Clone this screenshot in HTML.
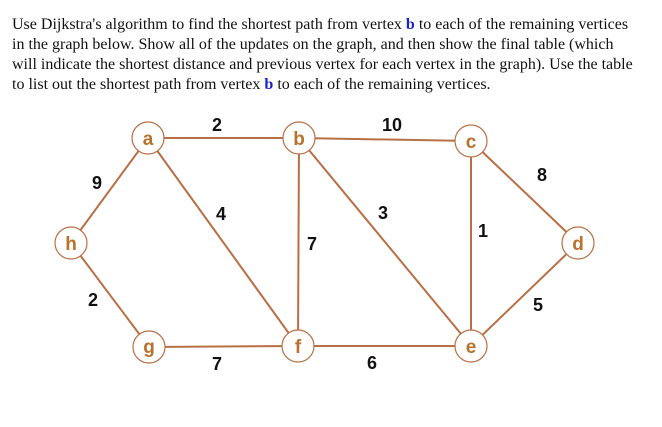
<!DOCTYPE html>
<html><head><meta charset="utf-8"><style>
body{margin:0;width:662px;height:427px;background:#fff;overflow:hidden;position:relative}
.t{position:absolute;left:12px;top:15px;font-family:"Liberation Serif",serif;font-size:16px;letter-spacing:0;line-height:20px;color:#111;white-space:nowrap}
.t b{color:#1a22c8}
svg{position:absolute;left:0;top:0}
</style></head><body>
<div class="t">Use Dijkstra's algorithm to find the shortest path from vertex <b>b</b> to each of the remaining vertices<br>in the graph below. Show all of the updates on the graph, and then show the final table (which<br>will indicate the shortest distance and previous vertex for each vertex in the graph). Use the table<br>to list out the shortest path from vertex <b>b</b> to each of the remaining vertices.</div>
<svg width="662" height="427" font-family="Liberation Sans, sans-serif">
<g stroke="#b86f45" stroke-width="2" fill="none">
<line x1="148" y1="138" x2="299" y2="138"/>
<line x1="299" y1="138" x2="471" y2="141"/>
<line x1="148" y1="138" x2="71" y2="243"/>
<line x1="148" y1="138" x2="298" y2="346"/>
<line x1="299" y1="138" x2="298" y2="346"/>
<line x1="299" y1="138" x2="471" y2="346"/>
<line x1="471" y1="141" x2="471" y2="346"/>
<line x1="471" y1="141" x2="578" y2="243"/>
<line x1="578" y1="243" x2="471" y2="346"/>
<line x1="71" y1="243" x2="149" y2="347"/>
<line x1="149" y1="347" x2="298" y2="346"/>
<line x1="298" y1="346" x2="471" y2="346"/>
</g>
<g stroke="#b86f45" stroke-width="1.2" fill="#fff">
<circle cx="148" cy="138" r="16"/><circle cx="299" cy="138" r="16"/><circle cx="471" cy="141" r="16"/>
<circle cx="71" cy="243" r="16"/><circle cx="578" cy="243" r="16"/>
<circle cx="149" cy="347" r="16"/><circle cx="298" cy="346" r="16"/><circle cx="471" cy="346" r="16"/>
</g>
<g fill="#b8722e" font-size="19" font-weight="bold" text-anchor="middle">
<text x="148" y="145">a</text><text x="299" y="145">b</text><text x="471" y="148">c</text>
<text x="71" y="250">h</text><text x="578" y="250">d</text>
<text x="149" y="353">g</text><text x="298" y="353">f</text><text x="471" y="353">e</text>
</g>
<g fill="#111" font-size="18" font-weight="bold" text-anchor="middle">
<text x="217" y="131">2</text><text x="392" y="131">10</text><text x="97" y="189">9</text>
<text x="221" y="220">4</text><text x="383" y="219">3</text><text x="312" y="250">7</text>
<text x="483" y="237">1</text><text x="542" y="181">8</text><text x="93" y="306">2</text>
<text x="538" y="311">5</text><text x="217" y="370">7</text><text x="372" y="369">6</text>
</g>
</svg>
</body></html>
